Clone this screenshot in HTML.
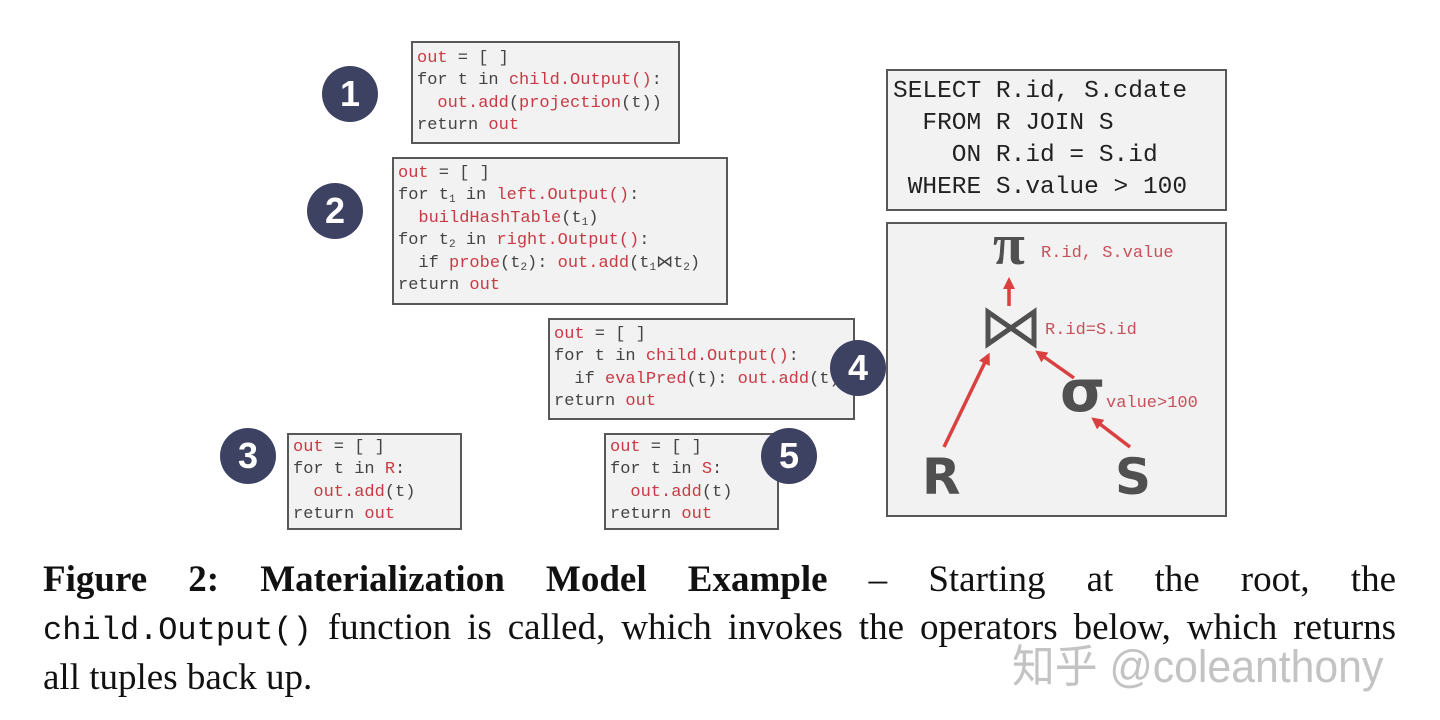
<!DOCTYPE html>
<html><head><meta charset="utf-8"><style>
body{margin:0;width:1440px;height:720px;background:#fff;position:relative;overflow:hidden}
.box{position:absolute;background:#f2f2f2;border:2px solid #585858;box-sizing:border-box}
.code{position:absolute;font-family:"Liberation Mono",monospace;font-size:17px;line-height:22.4px;color:#444;white-space:pre}
.r{color:#c83a44}
.c{position:absolute;width:56px;height:56px;border-radius:50%;background:#3e4262;color:#fff;font:bold 36px "Liberation Sans",sans-serif;text-align:center;line-height:56px}
sub{font-size:11px;vertical-align:-3px;line-height:0}
.cap{position:absolute;left:43px;width:1353px;font-family:"Liberation Serif",serif;font-size:37px;color:#111;white-space:nowrap}
.j{text-align:justify;text-align-last:justify;white-space:normal}
</style></head><body>

<div class="box" style="left:411px;top:41px;width:269px;height:103px"></div>
<div class="code" style="left:417px;top:48px"><span class="r">out</span> = [ ]
for t in <span class="r">child.Output()</span>:
  <span class="r">out.add</span>(<span class="r">projection</span>(t))
return <span class="r">out</span></div>

<div class="box" style="left:392px;top:157px;width:336px;height:148px"></div>
<div class="code" style="left:398px;top:163px"><span class="r">out</span> = [ ]
for t<sub>1</sub> in <span class="r">left.Output()</span>:
  <span class="r">buildHashTable</span>(t<sub>1</sub>)
for t<sub>2</sub> in <span class="r">right.Output()</span>:
  if <span class="r">probe</span>(t<sub>2</sub>): <span class="r">out.add</span>(t<sub>1</sub>⋈t<sub>2</sub>)
return <span class="r">out</span></div>

<div class="box" style="left:548px;top:318px;width:307px;height:102px"></div>
<div class="code" style="left:554px;top:324px"><span class="r">out</span> = [ ]
for t in <span class="r">child.Output()</span>:
  if <span class="r">evalPred</span>(t): <span class="r">out.add</span>(t)
return <span class="r">out</span></div>

<div class="box" style="left:287px;top:433px;width:175px;height:97px"></div>
<div class="code" style="left:293px;top:437px"><span class="r">out</span> = [ ]
for t in <span class="r">R</span>:
  <span class="r">out.add</span>(t)
return <span class="r">out</span></div>

<div class="box" style="left:604px;top:433px;width:175px;height:97px"></div>
<div class="code" style="left:610px;top:437px"><span class="r">out</span> = [ ]
for t in <span class="r">S</span>:
  <span class="r">out.add</span>(t)
return <span class="r">out</span></div>

<div class="c" style="left:322px;top:66px">1</div>
<div class="c" style="left:307px;top:183px">2</div>
<div class="c" style="left:220px;top:428px">3</div>
<div class="c" style="left:830px;top:340px">4</div>
<div class="c" style="left:761px;top:428px">5</div>

<div class="box" style="left:886px;top:69px;width:341px;height:142px"></div>
<div style="position:absolute;left:893px;top:76px;font-family:'Liberation Mono',monospace;font-size:24.5px;line-height:32px;color:#222;white-space:pre">SELECT R.id, S.cdate
  FROM R JOIN S
    ON R.id = S.id
 WHERE S.value &gt; 100</div>

<div class="box" style="left:886px;top:222px;width:341px;height:295px"></div>
<svg style="position:absolute;left:0;top:0" width="1440" height="720">
<defs><marker id="a" markerWidth="12" markerHeight="12" refX="6" refY="6" orient="auto" markerUnits="userSpaceOnUse"><path d="M0,0 L12,6 L0,12z" fill="#d9403f"/></marker></defs>
<g stroke="#d9403f" stroke-width="3.5" fill="none">
<line x1="1009" y1="306" x2="1009" y2="283" marker-end="url(#a)"/>
<line x1="944" y1="447" x2="987" y2="358" marker-end="url(#a)"/>
<line x1="1074" y1="378" x2="1040" y2="354" marker-end="url(#a)"/>
<line x1="1130" y1="447" x2="1096" y2="421" marker-end="url(#a)"/>
</g>
<path d="M988,312 L988,344 L1034,312 L1034,344 Z" stroke="#505050" stroke-width="5" fill="none" stroke-linejoin="miter"/>
<text x="993" y="264" font-family="Liberation Serif,serif" font-size="58" font-weight="bold" fill="#505050">π</text>
<text x="1060" y="411" font-family="DejaVu Sans,sans-serif" font-size="58" font-weight="bold" fill="#505050">σ</text>
<text x="922" y="494" font-family="DejaVu Sans,sans-serif" font-size="50" font-weight="bold" fill="#505050">R</text>
<text x="1115" y="494" font-family="DejaVu Sans,sans-serif" font-size="50" font-weight="bold" fill="#505050">S</text>
<g font-family="Liberation Mono,monospace" font-size="17" fill="#c8505a">
<text x="1041" y="257">R.id, S.value</text>
<text x="1045" y="334">R.id=S.id</text>
<text x="1106" y="407">value&gt;100</text>
</g>
</svg>

<div class="cap j" style="top:558px"><b>Figure</b> <b>2:</b> <b>Materialization</b> <b>Model</b> <b>Example</b> – Starting at the root, the</div>
<div class="cap j" style="top:606px"><span style="font-family:'Liberation Mono',monospace;font-size:32px">child.Output()</span> function is called, which invokes the operators below, which returns</div>
<div class="cap" style="top:656px">all tuples back up.</div>
<div style="position:absolute;left:1012px;top:630px;font-family:'Liberation Sans','Noto Sans CJK SC',sans-serif;font-size:45px;color:rgba(175,175,175,0.75);white-space:nowrap;transform:scaleX(0.95);transform-origin:left">知乎 @coleanthony</div>
</body></html>
